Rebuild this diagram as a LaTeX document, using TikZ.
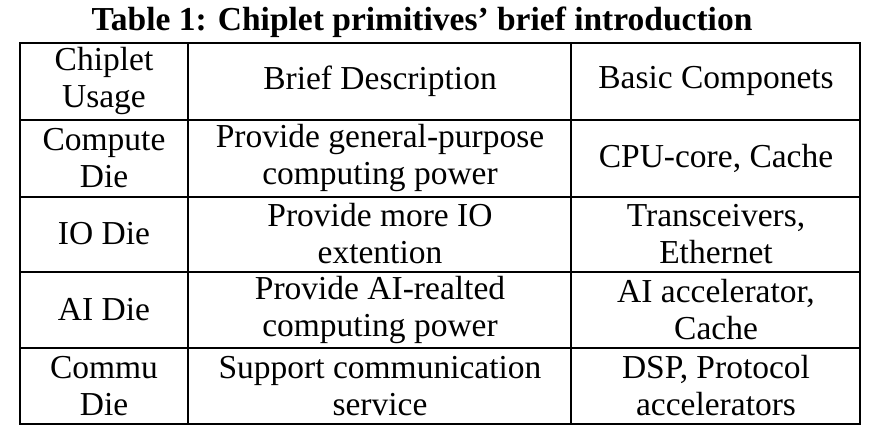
\documentclass[tikz,border=0pt]{standalone}
\usepackage{fontspec}
\setmainfont{Liberation Serif}
\begin{document}
\begin{tikzpicture}[x=1pt,y=-1pt,
  cell/.style={align=center,font=\fontsize{33.5}{37}\selectfont,inner sep=0pt},
  grid/.style={line width=1.3pt}]
\useasboundingbox (0,0) rectangle (874,436);
\node[font=\fontsize{33.5}{36}\selectfont\bfseries,inner sep=0pt] (title) at (422,22) {Table 1: Chiplet primitives’ brief introduction};
\draw[grid] (20,43) rectangle (860,424);
\foreach \y in {120,197,272,348} \draw[grid] (20,\y) -- (860,\y);
\foreach \x in {188,571} \draw[grid] (\x,43) -- (\x,424);
\node[cell] (h1) at (104,81) {Chiplet\\Usage};
\node[cell] (h2) at (380,81) {Brief Description};
\node[cell] (h3) at (716,81) {Basic Componets};
\node[cell] (a1) at (104,158) {Compute\\Die};
\node[cell] (a2) at (380,158) {Provide general-purpose\\computing power};
\node[cell] (a3) at (716,158) {CPU-core, Cache};
\node[cell] (b1) at (104,234) {IO Die};
\node[cell] (b2) at (380,234) {Provide more IO\\extention};
\node[cell] (b3) at (716,234) {Transceivers,\\Ethernet};
\node[cell] (c1) at (104,310) {AI Die};
\node[cell] (c2) at (380,310) {Provide AI-realted\\computing power};
\node[cell] (c3) at (716,310) {AI accelerator,\\Cache};
\node[cell] (d1) at (104,386) {Commu\\Die};
\node[cell] (d2) at (380,386) {Support communication\\service};
\node[cell] (d3) at (716,386) {DSP, Protocol\\accelerators};
\end{tikzpicture}
\end{document}
